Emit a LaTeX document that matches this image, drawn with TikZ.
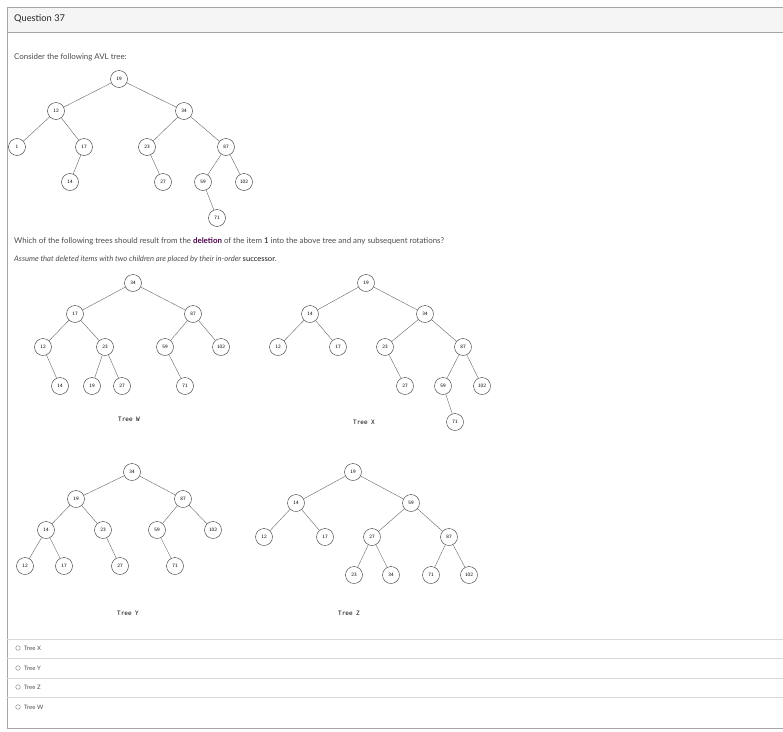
\documentclass[tikz,border=0pt]{standalone}
\usepackage{fontspec}
\setmainfont{Lato}
\setmonofont{DejaVu Sans Mono}
\begin{document}
\begin{tikzpicture}[x=1pt,y=-1pt,
  nd/.style={circle,draw=black!80,line width=0.4pt,minimum size=17pt,inner sep=0pt,font=\fontsize{5}{5}\selectfont\sffamily},
  ed/.style={draw=black!60,line width=0.4pt},
  txt/.style={anchor=west,inner sep=0pt,text=black!70,font=\fontsize{7.9}{9}\selectfont},
  lbl/.style={inner sep=0pt,font=\fontsize{6}{6}\selectfont\ttfamily},
  sep/.style={draw=black!15,line width=0.6pt}]
\useasboundingbox (0,0) rectangle (783,731);
\fill[white] (0,0) rectangle (783,731);
\fill[black!4] (7,7) rectangle (783,32);
\draw[black!35,line width=0.8pt] (783,7) -- (7,7) -- (7,728) -- (783,728);
\draw[black!35,line width=0.6pt] (7,32) -- (783,32);
\node[txt,text=black!85,font=\fontsize{9.3}{10}\selectfont] (q) at (14,19) {Question 37};
\node[txt] (t1) at (14,57) {Consider the following AVL tree:};
\node[txt] (t2) at (14,241) {Which of the following trees should result from the \textcolor{violet!60!black}{\textbf{deletion}} of the item \textbf{1} into the above tree and any subsequent rotations?};
\node[txt,font=\fontsize{7.6}{8}\selectfont\itshape] (t3) at (14,259) {Assume that deleted items with two children are placed by their in-order \textcolor{black!90}{\upshape successor}.};
% top tree
\foreach \n/\v/\x/\y in {a19/19/119/79,a12/12/56/111,a34/34/184/111,a1/1/17/147,a17/17/84/147,a23/23/147/147,a87/87/226/147,a14/14/70/182,a27/27/163/182,a59/59/203/182,a102/102/244/182,a71/71/217/218}
  \node[nd] (\n) at (\x,\y) {\v};
\foreach \p/\c in {a19/a12,a19/a34,a12/a1,a12/a17,a17/a14,a34/a23,a34/a87,a23/a27,a87/a59,a87/a102,a59/a71}
  \draw[ed] (\p) -- (\c);
% Tree W
\foreach \n/\v/\x/\y in {w34/34/133/283,w17/17/75/314,w87/87/193/314,w12/12/43/347,w23/23/105/347,w59/59/165/347,w102/102/221/347,w14/14/60/386,w19/19/92/386,w27/27/122/386,w71/71/185/386}
  \node[nd] (\n) at (\x,\y) {\v};
\foreach \p/\c in {w34/w17,w34/w87,w17/w12,w17/w23,w12/w14,w23/w19,w23/w27,w87/w59,w87/w102,w59/w71}
  \draw[ed] (\p) -- (\c);
\node[lbl] (lw) at (129,419) {Tree W};
% Tree X
\foreach \n/\v/\x/\y in {x19/19/366/283,x14/14/310/314,x34/34/425/314,x12/12/278/347,x17/17/338/347,x23/23/385/347,x87/87/463/347,x27/27/405/386,x59/59/443/386,x102/102/482/386,x71/71/455/422}
  \node[nd] (\n) at (\x,\y) {\v};
\foreach \p/\c in {x19/x14,x19/x34,x14/x12,x14/x17,x34/x23,x34/x87,x23/x27,x87/x59,x87/x102,x59/x71}
  \draw[ed] (\p) -- (\c);
\node[lbl] (lx) at (364,422) {Tree X};
% Tree Y
\foreach \n/\v/\x/\y in {y34/34/132/472,y19/19/76/499,y87/87/183/499,y14/14/46/530,y23/23/103/530,y59/59/157/530,y102/102/213/530,y12/12/25/566,y17/17/64/566,y27/27/120/566,y71/71/175/566}
  \node[nd] (\n) at (\x,\y) {\v};
\foreach \p/\c in {y34/y19,y34/y87,y19/y14,y19/y23,y14/y12,y14/y17,y23/y27,y87/y59,y87/y102,y59/y71}
  \draw[ed] (\p) -- (\c);
\node[lbl] (ly) at (128,613) {Tree Y};
% Tree Z
\foreach \n/\v/\x/\y in {z19/19/353/472,z14/14/296/503,z59/59/411/503,z12/12/264/537,z17/17/325/537,z27/27/372/537,z87/87/449/537,z23/23/354/575,z34/34/391/575,z71/71/431/575,z102/102/469/575}
  \node[nd] (\n) at (\x,\y) {\v};
\foreach \p/\c in {z19/z14,z19/z59,z14/z12,z14/z17,z59/z27,z59/z87,z27/z23,z27/z34,z87/z71,z87/z102}
  \draw[ed] (\p) -- (\c);
\node[lbl] (lz) at (349,613) {Tree Z};
% options
\foreach \yy in {639,658,678,697} \draw[sep] (7,\yy) -- (783,\yy);
\foreach \yy/\t [count=\i] in {648/Tree X,668/Tree Y,687/Tree Z,707/Tree W}{
  \draw[black!50,line width=0.4pt] (18,\yy) circle (2.3);
  \node[txt,font=\fontsize{6}{6}\selectfont] (o\i) at (24,\yy) {\t};}
\end{tikzpicture}
\end{document}
